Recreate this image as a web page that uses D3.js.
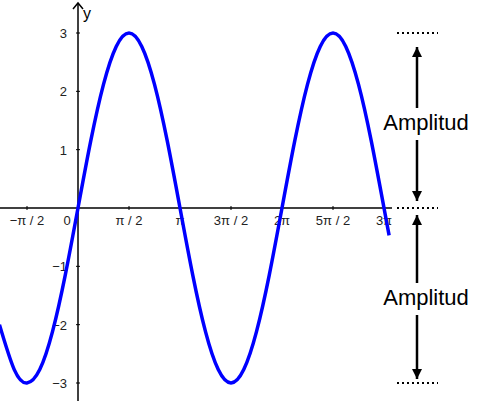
<!DOCTYPE html>
<html><head><meta charset="utf-8">
<script src="https://cdn.jsdelivr.net/npm/d3@7"></script>
<style>body{margin:0;background:#fff}svg{display:block}text{font-family:"Liberation Sans",Arial,sans-serif}</style>
</head><body><svg id="chart"></svg>
<script>
// x in multiples of pi
const curveX = [-0.77, -0.625, -0.5, -0.375, -0.25, -0.125, 0, 0.125, 0.25, 0.375, 0.5, 0.625, 0.75, 0.875, 1, 1.125, 1.25, 1.375, 1.5, 1.625, 1.75, 1.875, 2, 2.125, 2.25, 2.375, 2.5, 2.625, 2.75, 2.875, 3, 3.05];
const curveY = [-2.0, -2.77, -3, -2.77, -2.12, -1.15, 0, 1.15, 2.12, 2.77, 3, 2.77, 2.12, 1.15, 0, -1.15, -2.12, -2.77, -3, -2.77, -2.12, -1.15, 0, 1.15, 2.12, 2.77, 3, 2.77, 2.12, 1.15, 0, -0.47];
const xTicks = [-0.5, 0.5, 1, 1.5, 2, 2.5, 3];
const xTickLabels = ["\u2212\u03c0 / 2", "\u03c0 / 2", "\u03c0", "3\u03c0 / 2", "2\u03c0", "5\u03c0 / 2", "3\u03c0"];
const yTicks = [-3, -2, -1, 1, 2, 3];
const braceLabel = "Amplitud";

const width = 480, height = 401;
const svg = d3.select('#chart').attr('width', width).attr('height', height);
const x = d3.scaleLinear().domain([0, 1]).range([78, 180]);
const y = d3.scaleLinear().domain([0, 3]).range([208, 33]);

// axes
svg.append('line').attr('x1', 0).attr('x2', 392).attr('y1', y(0)).attr('y2', y(0))
  .style('stroke', '#000').style('stroke-width', 1.5);
svg.append('line').attr('x1', x(0)).attr('x2', x(0)).attr('y1', 3).attr('y2', height)
  .style('stroke', '#000').style('stroke-width', 1.5);
svg.append('path').attr('d', `M${x(0)-5},9 L${x(0)},3 L${x(0)+5},9`)
  .style('fill', 'none').style('stroke', '#000').style('stroke-width', 1.5);
svg.append('text').attr('x', x(0) + 5).attr('y', 19).text('y').style('font-size', '16px');

xTicks.forEach((t, i) => {
  svg.append('line').attr('x1', x(t)).attr('x2', x(t)).attr('y1', y(0) - 2).attr('y2', y(0) + 2).style('stroke', '#000');
  svg.append('text').attr('x', x(t)).attr('y', y(0) + 17).attr('text-anchor', 'middle')
    .style('font-size', '13px').style('fill', '#222').text(xTickLabels[i]);
});
svg.append('text').attr('x', x(0) - 11).attr('y', y(0) + 17).attr('text-anchor', 'middle')
  .style('font-size', '13px').style('fill', '#222').text('0');
yTicks.forEach(t => {
  svg.append('line').attr('x1', x(0) - 2).attr('x2', x(0) + 2).attr('y1', y(t)).attr('y2', y(t)).style('stroke', '#000');
  svg.append('text').attr('x', x(0) - 11).attr('y', y(t) + 5).attr('text-anchor', 'end')
    .style('font-size', '13px').style('fill', '#222').text(t < 0 ? '\u2212' + (-t) : t);
});

// curve
const line = d3.line().x(d => x(d[0])).y(d => y(d[1])).curve(d3.curveNatural);
svg.append('path').attr('d', line(curveX.map((v, i) => [v, curveY[i]])))
  .style('fill', 'none').style('stroke', '#0000ff').style('stroke-width', 3.5);

// amplitude markers
[3, 0, -3].forEach(v => {
  svg.append('line').attr('x1', 397).attr('x2', 438).attr('y1', y(v)).attr('y2', y(v))
    .style('stroke', '#000').style('stroke-width', 2).style('stroke-dasharray', '2,3');
});
const ax = 417;
function arrow(y1, y2) {
  svg.append('line').attr('x1', ax).attr('x2', ax).attr('y1', y1).attr('y2', y2)
    .style('stroke', '#000').style('stroke-width', 2.5);
  const dir = y2 > y1 ? 1 : -1;
  svg.append('path').attr('d', `M${ax-5},${y2 - dir*10} L${ax},${y2} L${ax+5},${y2 - dir*10} Z`).style('fill', '#000');
}
arrow(108, 47); arrow(140, 201);
arrow(283, 215); arrow(315, 379);
svg.append('text').attr('x', 426).attr('y', 130).attr('text-anchor', 'middle')
  .style('font-size', '22px').text(braceLabel);
svg.append('text').attr('x', 426).attr('y', 305).attr('text-anchor', 'middle')
  .style('font-size', '22px').text(braceLabel);
</script></body></html>
